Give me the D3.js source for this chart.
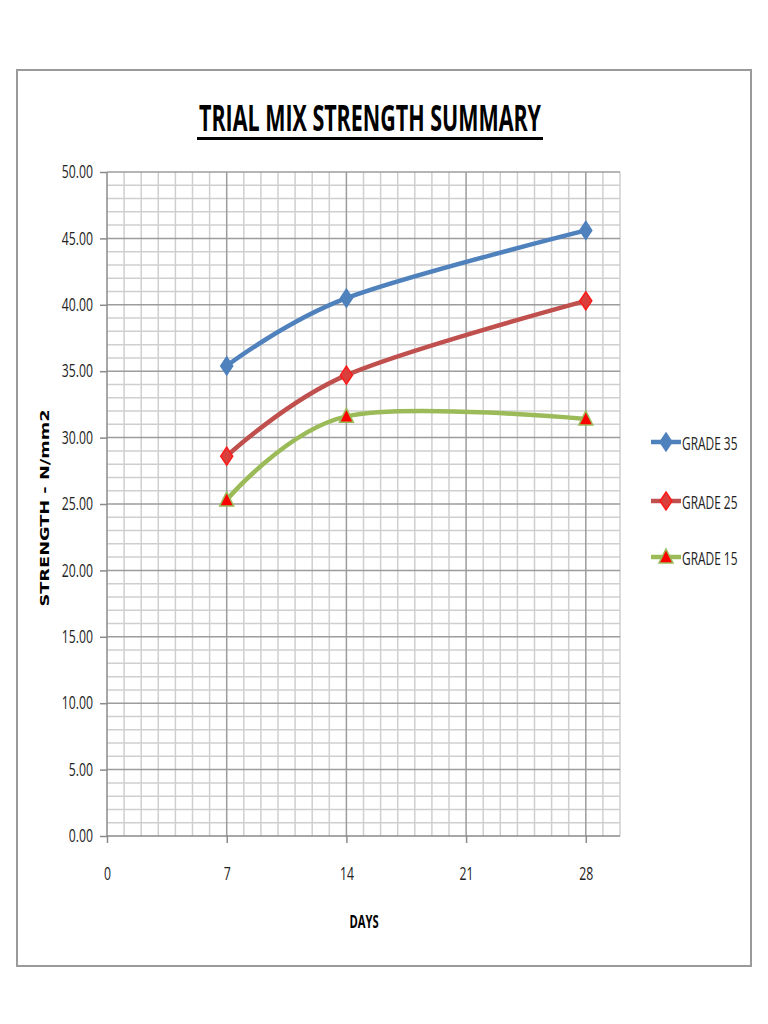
<!DOCTYPE html>
<html lang="en">
<head>
    <meta charset="UTF-8">
    <title>Trial Mix Strength Summary</title>
    <style>
        body { margin: 0; background: #fff; }
        svg { display: block; }
    </style>
</head>
<body>
    <svg id="chart" width="768" height="1024"></svg>

<script src="https://cdn.jsdelivr.net/npm/d3@7"></script>
<script>
    // chart values
    let days = [7, 14, 28]
    let grade35 = [35.4, 40.5, 45.6]
    let grade25 = [28.6, 34.7, 40.3]
    let grade15 = [25.3, 31.6, 31.4]
    let seriesNames = ["GRADE 35", "GRADE 25", "GRADE 15"]
    let xTicks = [0, 7, 14, 21, 28]
    let yTicks = [0, 5, 10, 15, 20, 25, 30, 35, 40, 45, 50]

    let svg = d3.select("#chart")
    let font = "Open Sans"

    let margin = { left: 107, top: 172, right: 148, bottom: 188 }
    let width = 768, height = 1024
    let bodyWidth = width - margin.left - margin.right
    let bodyHeight = height - margin.top - margin.bottom

    let xScale = d3.scaleLinear().domain([0, 30]).range([0, bodyWidth])
    let yScale = d3.scaleLinear().domain([0, 50]).range([bodyHeight, 0])

    // no condensed font installed, so narrow text by squeezing glyphs
    function squeeze(sel, factor) {
        sel.each(function () {
            let w = this.getComputedTextLength()
            d3.select(this)
                .attr("textLength", w * factor)
                .attr("lengthAdjust", "spacingAndGlyphs")
        })
    }

    // outer frame
    svg.append("rect")
        .attr("x", 17).attr("y", 70)
        .attr("width", 734).attr("height", 896)
        .attr("fill", "#fff")
        .attr("stroke", "#9a9a9a").attr("stroke-width", 2)

    // title
    svg.append("text")
        .attr("x", 370).attr("y", 131)
        .attr("text-anchor", "middle")
        .attr("font-family", font)
        .attr("font-size", 35).attr("font-weight", "bold")
        .attr("textLength", 342).attr("lengthAdjust", "spacingAndGlyphs")
        .text("TRIAL MIX STRENGTH SUMMARY")
    svg.append("line")
        .attr("x1", 197).attr("x2", 543)
        .attr("y1", 138.5).attr("y2", 138.5)
        .attr("stroke", "#000").attr("stroke-width", 3)

    let body = svg.append("g")
        .attr("transform", `translate(${margin.left},${margin.top})`)

    // grid: minor lines first, then majors
    let minorX = d3.range(1, 31).filter(d => d % 7 !== 0)
    let minorY = d3.range(1, 50).filter(d => d % 5 !== 0)

    body.append("g").selectAll("line").data(minorX).join("line")
        .attr("x1", d => xScale(d)).attr("x2", d => xScale(d))
        .attr("y1", 0).attr("y2", bodyHeight)
        .attr("stroke", "#cfcfcf").attr("stroke-width", 1.5)
    body.append("g").selectAll("line").data(minorY).join("line")
        .attr("x1", 0).attr("x2", bodyWidth)
        .attr("y1", d => yScale(d)).attr("y2", d => yScale(d))
        .attr("stroke", "#cfcfcf").attr("stroke-width", 1.5)
    body.append("g").selectAll("line").data(xTicks.slice(1)).join("line")
        .attr("x1", d => xScale(d)).attr("x2", d => xScale(d))
        .attr("y1", 0).attr("y2", bodyHeight)
        .attr("stroke", "#9c9c9c").attr("stroke-width", 1.5)
    body.append("g").selectAll("line").data(yTicks.slice(1)).join("line")
        .attr("x1", 0).attr("x2", bodyWidth)
        .attr("y1", d => yScale(d)).attr("y2", d => yScale(d))
        .attr("stroke", "#9c9c9c").attr("stroke-width", 1.5)

    // axes
    let yAxis = body.append("g")
        .call(d3.axisLeft(yScale).tickValues(yTicks).tickFormat(d3.format(".2f")).tickSize(7).tickPadding(7))
    let xAxis = body.append("g")
        .attr("transform", `translate(0,${bodyHeight})`)
        .call(d3.axisBottom(xScale).tickValues(xTicks).tickSize(7).tickPadding(24))

    for (let ax of [xAxis, yAxis]) {
        ax.attr("font-family", font).attr("font-size", 18)
        ax.select(".domain").attr("stroke", "#8a8a8a").attr("stroke-width", 1.5)
        ax.selectAll(".tick line").attr("stroke", "#8a8a8a").attr("stroke-width", 1.5)
        ax.selectAll(".tick text").attr("fill", "#222").call(squeeze, 0.68)
    }
    yAxis.select(".domain").attr("d", `M0,${bodyHeight}V0`)
    xAxis.select(".domain").attr("d", `M0,0H${bodyWidth}`)

    // axis titles
    svg.append("text")
        .attr("x", 364).attr("y", 928)
        .attr("text-anchor", "middle")
        .attr("font-family", font)
        .attr("font-size", 17).attr("font-weight", "bold")
        .text("DAYS")
        .call(squeeze, 0.66)
    svg.append("text")
        .attr("transform", "translate(49,508) rotate(-90)")
        .attr("text-anchor", "middle")
        .attr("font-family", "DejaVu Sans")
        .attr("font-size", 12).attr("font-weight", "bold")
        .attr("textLength", 197).attr("lengthAdjust", "spacingAndGlyphs")
        .text("STRENGTH - N/mm2")

    // series
    let series = [
        { name: seriesNames[0], values: grade35, color: "#4f81bd", marker: "diamond", fill: "#4f81bd", edge: "#4f81bd" },
        { name: seriesNames[1], values: grade25, color: "#c0504d", marker: "diamond", fill: "#d9403c", edge: "#ff1a1a" },
        { name: seriesNames[2], values: grade15, color: "#9bbb59", marker: "triangle", fill: "#ff0000", edge: "#9bbb59" }
    ]

    let lineGenerator = d3.line()
        .x(d => xScale(d.day))
        .y(d => yScale(d.value))
        .curve(d3.curveCardinal.tension(0))

    let symbolPath = (m) => m === "diamond"
        ? "M0,-9L6,0L0,9L-6,0Z"
        : "M0,-8L7,6L-7,6Z"

    for (let s of series) {
        let pts = days.map((d, i) => ({ day: d, value: s.values[i] }))
        body.append("path")
            .datum(pts)
            .attr("d", lineGenerator)
            .attr("fill", "none")
            .attr("stroke", s.color)
            .attr("stroke-width", 4.5)
            .attr("stroke-linecap", "round")
        body.append("g").selectAll("path").data(pts).join("path")
            .attr("transform", d => `translate(${xScale(d.day)},${yScale(d.value)})`)
            .attr("d", symbolPath(s.marker))
            .attr("fill", s.fill)
            .attr("stroke", s.edge)
            .attr("stroke-width", 1.5)
    }

    // legend
    let legend = svg.append("g").attr("transform", "translate(651,442)")
    let legendRows = legend.selectAll("g").data(series).join("g")
        .attr("transform", (d, i) => `translate(0,${[0, 59, 115][i]})`)
    legendRows.append("line")
        .attr("x1", 0).attr("x2", 30)
        .attr("stroke", d => d.color).attr("stroke-width", 4.5)
    legendRows.append("path")
        .attr("transform", "translate(15,0)")
        .attr("d", d => symbolPath(d.marker))
        .attr("fill", d => d.fill)
        .attr("stroke", d => d.edge)
        .attr("stroke-width", 1.5)
    legendRows.append("text")
        .attr("x", 31).attr("y", 8)
        .attr("font-family", font)
        .attr("font-size", 17.5).attr("fill", "#222")
        .text(d => d.name)
        .call(squeeze, 0.68)
</script>
</body>
</html>
